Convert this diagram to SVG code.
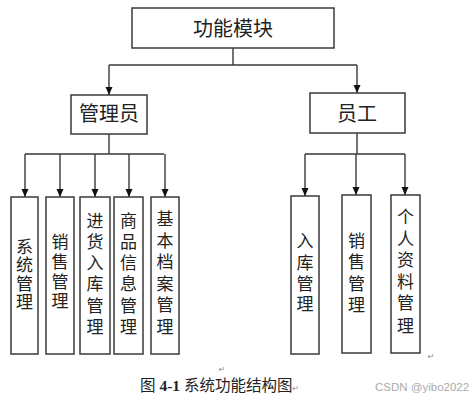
<svg xmlns="http://www.w3.org/2000/svg" width="474" height="401" viewBox="0 0 474 401">
<style>
.box{fill:#fff;stroke:#3a3a3a;stroke-width:1.5}
.ln{fill:none;stroke:#3a3a3a;stroke-width:1.4}
.t{font-family:"Liberation Serif","Noto Sans CJK SC",serif;fill:#222;text-anchor:middle}
.v{font-size:17px}
.m{font-size:8px;fill:#888;font-family:"DejaVu Sans",sans-serif}
</style>
<defs>
<marker id="ah" markerUnits="userSpaceOnUse" markerWidth="8" markerHeight="8" refX="8" refY="3.5" orient="auto">
<path d="M0,0 L8,3.5 L0,7 z" fill="#111"/>
</marker>
</defs>
<rect width="474" height="401" fill="#fff"/>
<g id="connectors">
<path class="ln" d="M233,48 V65 M109,65 H357"/>
<path class="ln" d="M109,65 V95" marker-end="url(#ah)"/>
<path class="ln" d="M357,65 V93" marker-end="url(#ah)"/>
<path class="ln" d="M109,134 V154 M25,154 H164"/>
<path class="ln" d="M25,154 V197" marker-end="url(#ah)"/>
<path class="ln" d="M60,154 V197" marker-end="url(#ah)"/>
<path class="ln" d="M95,154 V197" marker-end="url(#ah)"/>
<path class="ln" d="M129,154 V197" marker-end="url(#ah)"/>
<path class="ln" d="M165,154 V197" marker-end="url(#ah)"/>
<path class="ln" d="M357,133 V154 M305,154 H405"/>
<path class="ln" d="M305,154 V196" marker-end="url(#ah)"/>
<path class="ln" d="M356,154 V195" marker-end="url(#ah)"/>
<path class="ln" d="M405,154 V195" marker-end="url(#ah)"/>
</g>
<g id="root">
<rect class="box" x="132" y="8" width="202" height="40"/>
<text class="t" x="233" y="35.5" font-size="20">功能模块</text>
</g>
<g id="admin">
<rect class="box" x="71" y="95" width="76" height="39"/>
<text class="t" x="109" y="121" font-size="20">管理员</text>
</g>
<g id="staff">
<rect class="box" x="310" y="93" width="95" height="40"/>
<text class="t" x="357" y="120.5" font-size="20">员工</text>
</g>
<g id="a1">
<rect class="box" x="11" y="197" width="27" height="157"/>
<text class="t v" x="24.5" y="253"><tspan x="24.5">系</tspan><tspan x="24.5" dy="18.3">统</tspan><tspan x="24.5" dy="18.3">管</tspan><tspan x="24.5" dy="18.3">理</tspan></text>
</g>
<g id="a2">
<rect class="box" x="46" y="197" width="28" height="157"/>
<text class="t v" x="60" y="248"><tspan x="60">销</tspan><tspan x="60" dy="20">售</tspan><tspan x="60" dy="20">管</tspan><tspan x="60" dy="19">理</tspan></text>
</g>
<g id="a3">
<rect class="box" x="80" y="197" width="30" height="157"/>
<text class="t v" x="95" y="226.5"><tspan x="95">进</tspan><tspan x="95" dy="21.3">货</tspan><tspan x="95" dy="21.3">入</tspan><tspan x="95" dy="21.3">库</tspan><tspan x="95" dy="21.3">管</tspan><tspan x="95" dy="21.3">理</tspan></text>
</g>
<g id="a4">
<rect class="box" x="114" y="197" width="29" height="157"/>
<text class="t v" x="128.5" y="226.5"><tspan x="128.5">商</tspan><tspan x="128.5" dy="21.3">品</tspan><tspan x="128.5" dy="21.3">信</tspan><tspan x="128.5" dy="21.3">息</tspan><tspan x="128.5" dy="21.3">管</tspan><tspan x="128.5" dy="21.3">理</tspan></text>
</g>
<g id="a5">
<rect class="box" x="151" y="197" width="28" height="157"/>
<text class="t v" x="165" y="225"><tspan x="165">基</tspan><tspan x="165" dy="21.6">本</tspan><tspan x="165" dy="21.6">档</tspan><tspan x="165" dy="21.6">案</tspan><tspan x="165" dy="21.6">管</tspan><tspan x="165" dy="21.6">理</tspan></text>
</g>
<g id="s1">
<rect class="box" x="291" y="196" width="28" height="158"/>
<text class="t v" x="305" y="246.5"><tspan x="305">入</tspan><tspan x="305" dy="22">库</tspan><tspan x="305" dy="21">管</tspan><tspan x="305" dy="20.5">理</tspan></text>
</g>
<g id="s2">
<rect class="box" x="342" y="195" width="29" height="158"/>
<text class="t v" x="356.5" y="246.5"><tspan x="356.5">销</tspan><tspan x="356.5" dy="21.6">售</tspan><tspan x="356.5" dy="21.6">管</tspan><tspan x="356.5" dy="21.6">理</tspan></text>
</g>
<g id="s3">
<rect class="box" x="391" y="195" width="29" height="158"/>
<text class="t v" x="405.5" y="223"><tspan x="405.5">个</tspan><tspan x="405.5" dy="22">人</tspan><tspan x="405.5" dy="21">资</tspan><tspan x="405.5" dy="21.6">料</tspan><tspan x="405.5" dy="21.6">管</tspan><tspan x="405.5" dy="23">理</tspan></text>
</g>
<text class="m" x="222" y="372" text-anchor="middle">↵</text>
<text class="m" x="431" y="359" text-anchor="middle">↵</text>
<text class="t" x="140" y="391" font-size="15.5" style="text-anchor:start">图 <tspan font-weight="bold">4-1</tspan> 系统功能结构图<tspan class="m">↵</tspan></text>
<text x="375" y="391" font-family="Liberation Sans, sans-serif" font-size="11.5" fill="#aaa">CSDN @yibo2022</text>
</svg>
